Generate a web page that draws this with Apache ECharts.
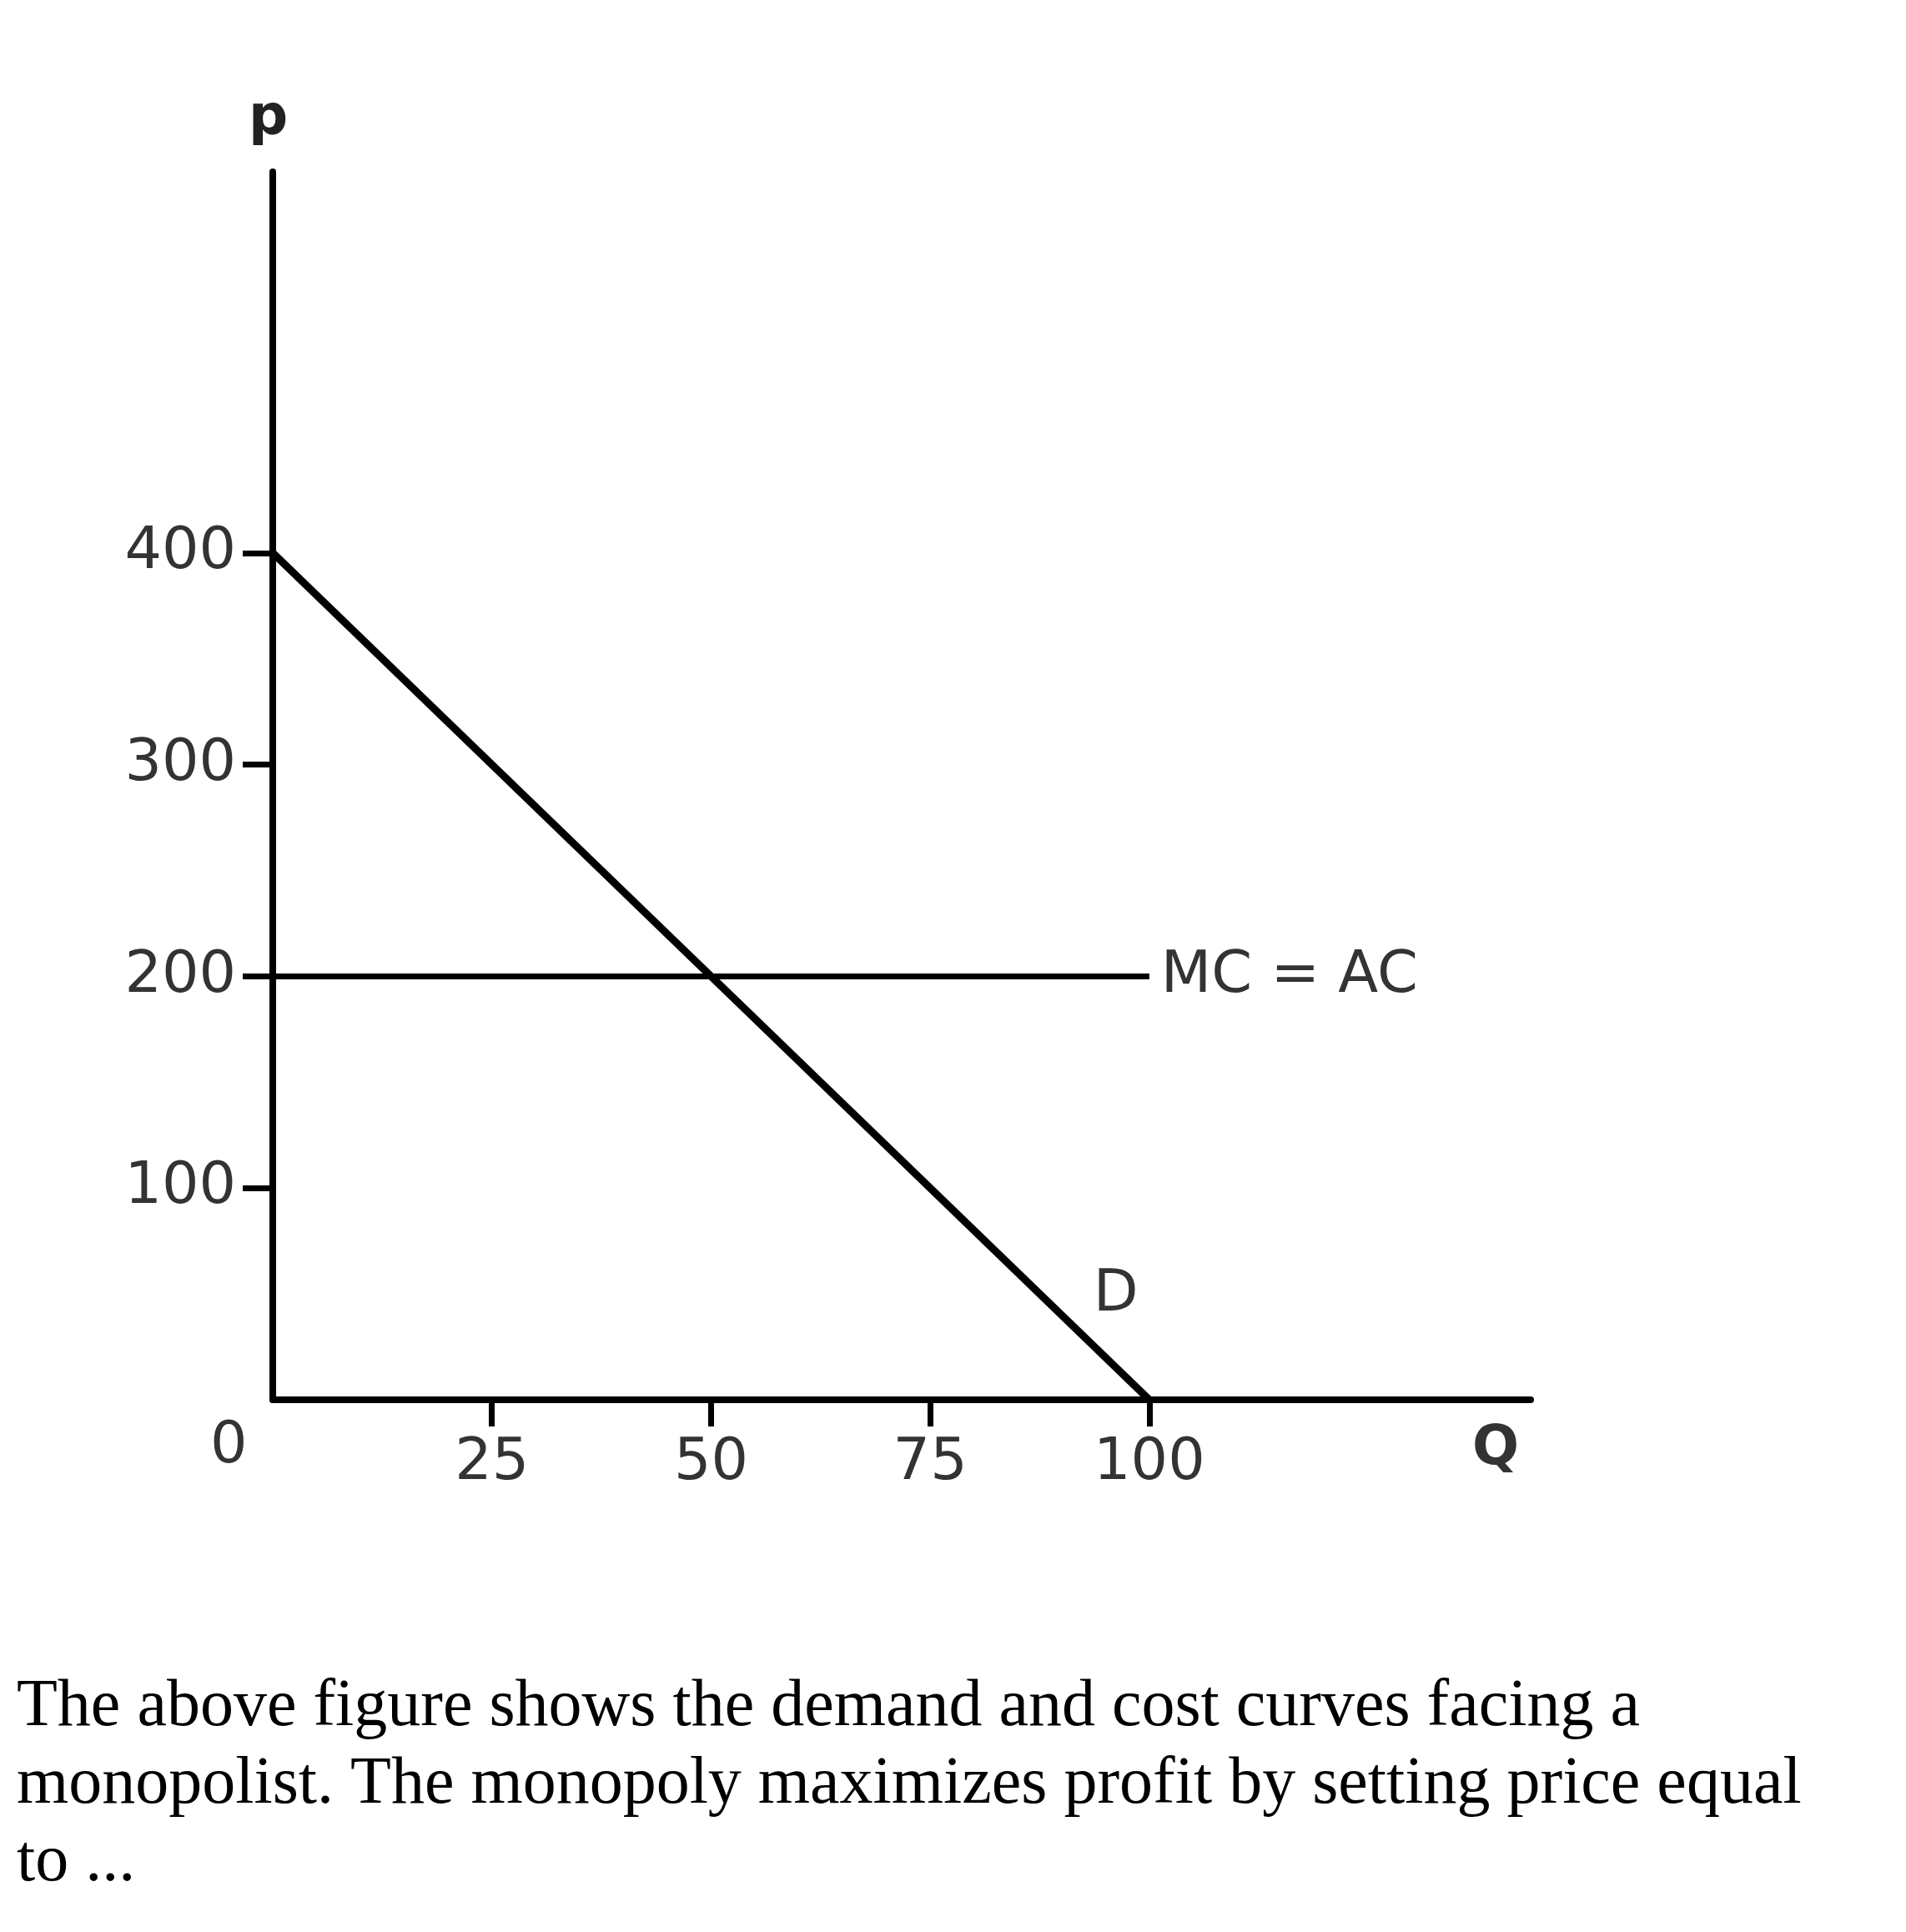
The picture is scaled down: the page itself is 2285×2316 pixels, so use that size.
<!DOCTYPE html>
<html>
<head>
<meta charset="utf-8">
<script src="https://cdn.jsdelivr.net/npm/echarts@6/dist/echarts.min.js"></script>
<style>
  html, body { margin: 0; padding: 0; background: #fff; }
  #chart { width: 2285px; height: 2316px; }
</style>
</head>
<body>
<div id="chart"></div>
<script>
// data
var demandQ = [0, 100];
var demandP = [400, 0];
var costQ = [0, 100];
var costP = [200, 200];
var xTicks = [25, 50, 75, 100];
var yTicks = [100, 200, 300, 400];
var caption = [
  'The above figure shows the demand and cost curves facing a',
  'monopolist. The monopoly maximizes profit by setting price equal',
  'to ...'
];

var font = 'DejaVu Sans';
var chart = echarts.init(document.getElementById('chart'));

var option = {
  animation: false,
  backgroundColor: '#fff',
  grid: { left: 327, top: 206, width: 1508, height: 1472 },
  xAxis: {
    type: 'value', min: 0, max: 143.5,
    axisLine: { lineStyle: { color: '#000', width: 8 } },
    axisTick: { customValues: xTicks, length: 32, lineStyle: { color: '#000', width: 7 } },
    axisLabel: { customValues: xTicks, margin: 42, fontFamily: font, fontSize: 70, color: '#333' },
    splitLine: { show: false }
  },
  yAxis: {
    type: 'value', min: 0, max: 580,
    axisLine: { lineStyle: { color: '#000', width: 8 } },
    axisTick: { customValues: yTicks, length: 36, lineStyle: { color: '#000', width: 7 } },
    axisLabel: { customValues: yTicks, margin: 44, fontFamily: font, fontSize: 70, color: '#333' },
    splitLine: { show: false }
  },
  series: [
    {
      type: 'line', symbol: 'none',
      data: demandQ.map(function (q, i) { return [q, demandP[i]]; }),
      lineStyle: { color: '#000', width: 9 },
      endLabel: { show: true, formatter: 'D', fontFamily: font, fontSize: 70, color: '#333', offset: [-75, -125] }
    },
    {
      type: 'line', symbol: 'none',
      data: costQ.map(function (q, i) { return [q, costP[i]]; }),
      lineStyle: { color: '#000', width: 7 },
      endLabel: { show: true, formatter: 'MC = AC', fontFamily: font, fontSize: 70, color: '#333', distance: 14 }
    }
  ],
  graphic: [
    { type: 'text', left: 298, top: 110, style: { text: 'p', font: 'bold 66px ' + font, fill: '#222' } },
    { type: 'text', left: 252, top: 1700, style: { text: '0', font: '70px ' + font, fill: '#333' } },
    { type: 'text', left: 1765, top: 1705, style: { text: 'Q', font: 'bold 66px ' + font, fill: '#333' } },
    { type: 'text', left: 20, top: 2000, style: { text: caption.join('\n'), font: '80px "Liberation Serif"', lineHeight: 93, fill: '#000' } }
  ]
};
chart.setOption(option);
</script>
</body>
</html>
